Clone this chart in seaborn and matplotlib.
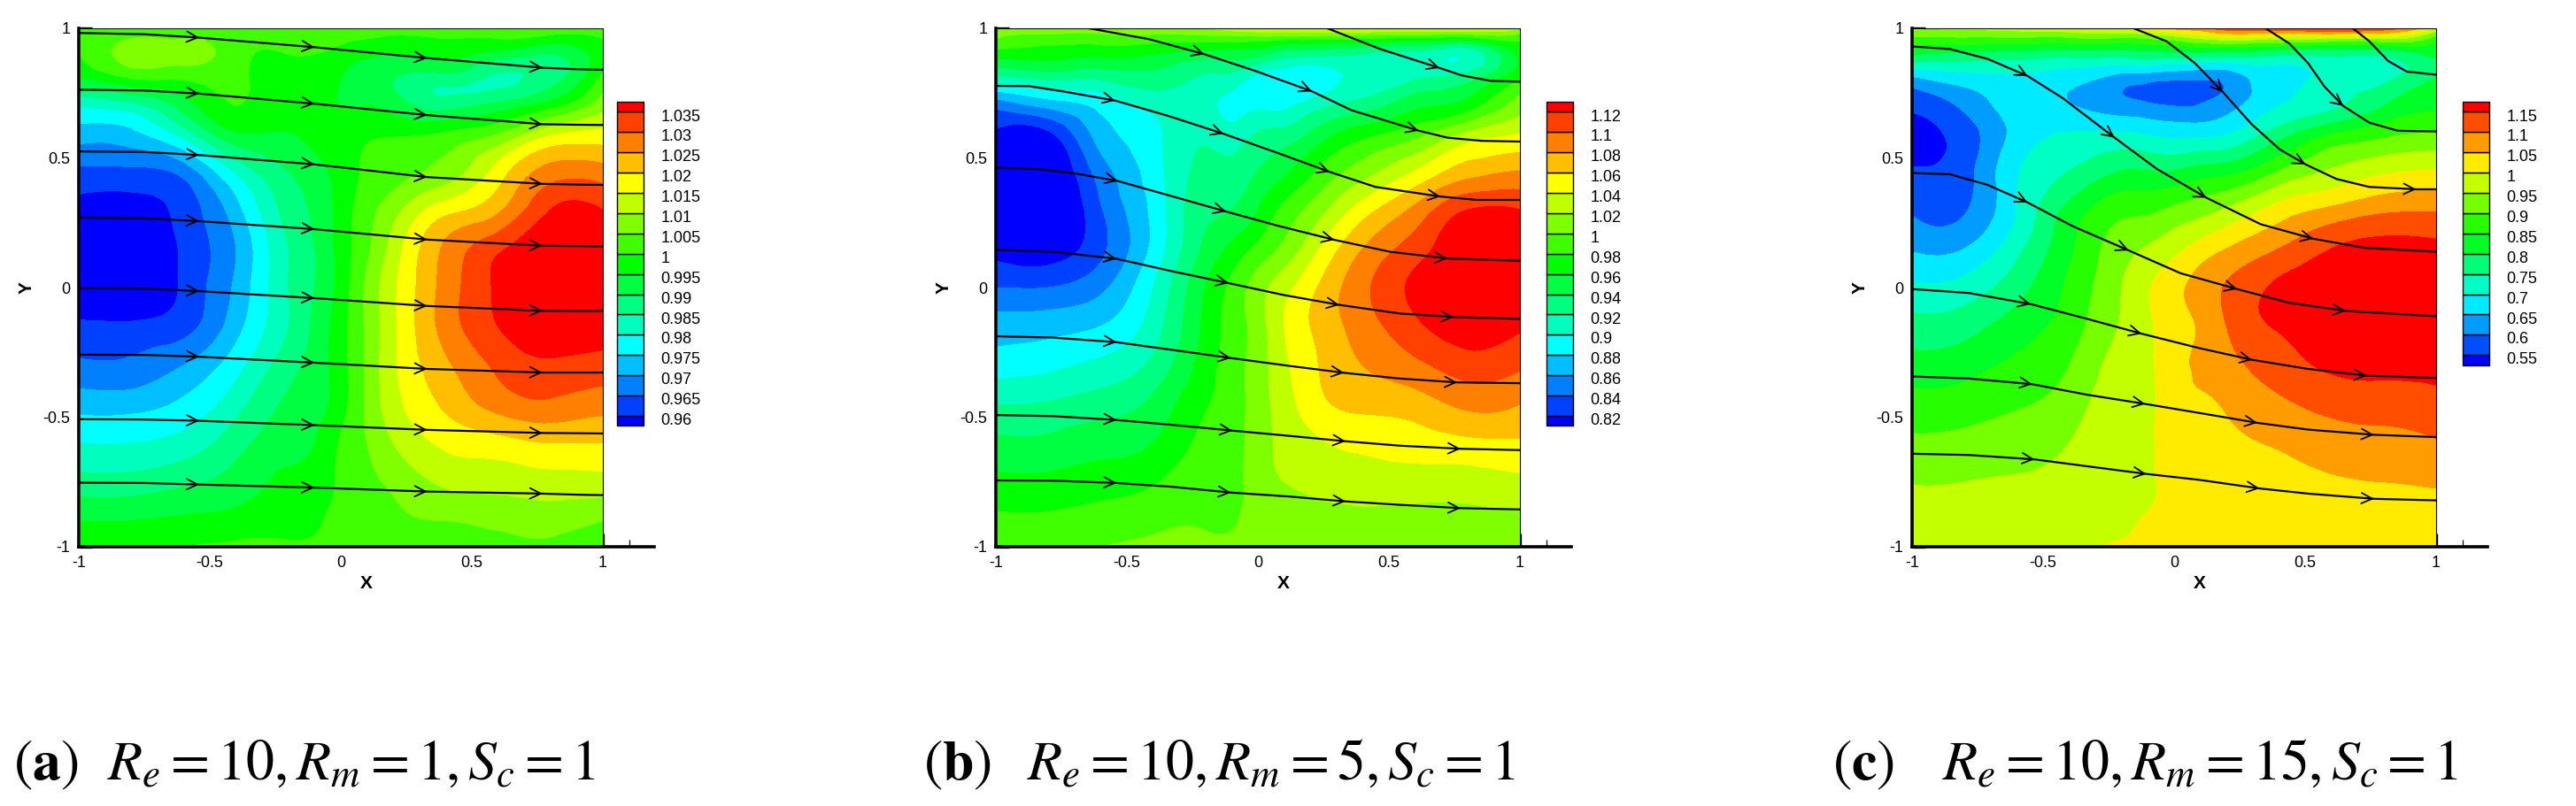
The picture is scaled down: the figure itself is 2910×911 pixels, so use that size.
import numpy as np
import pandas as pd
import matplotlib
matplotlib.use("Agg")
import matplotlib.pyplot as plt
import seaborn as sns
from matplotlib.colors import LinearSegmentedColormap
from matplotlib.patches import Rectangle
from matplotlib.ticker import MultipleLocator
from matplotlib.tri import Triangulation, UniformTriRefiner

# ---- sampling nodes of the fields ----
GRID_X = [-1, -.8, -.6, -.4, -.2, -.1, 0, .1, .2, .4, .6, .8, 1]
GRID_Y = [1, .96, .9, .8, .7, .6, .45, .3, .15, 0, -.15, -.3, -.45, -.6, -.75, -.9, -1]

# one row per GRID_X entry, one value per GRID_Y entry
FIELD_A = [
 [1.002,1.002,1.000,.994,.980,.973,.964,.958,.954,.955,.961,.966,.973,.980,.987,.995,1.000],
 [1.003,1.005,1.007,.999,.983,.974,.964,.957,.952,.953,.961,.966,.973,.980,.987,.995,.9995],
 [1.003,1.005,1.007,1.000,.992,.983,.967,.962,.961,.961,.963,.970,.976,.982,.989,.996,1.000],
 [1.002,1.002,1.002,1.001,1.000,.995,.981,.973,.970,.971,.973,.978,.983,.988,.992,.997,1.001],
 [1.002,1.002,1.000,.999,.998,.995,.990,.987,.985,.985,.985,.988,.991,.993,.996,.998,1.001],
 [1.002,1.002,1.000,.999,.998,.997,.993,.991,.990,.990,.991,.992,.993,.995,.997,.999,1.001],
 [1.002,1.001,.998,.995,.995,.998,.997,.997,.997,.997,.998,.998,.998,1.0005,1.001,1.002,1.002],
 [1.003,1.000,.996,.992,.995,.999,1.001,1.003,1.004,1.006,1.006,1.006,1.006,1.005,1.004,1.003,1.002],
 [1.003,.999,.995,.990,.993,.999,1.003,1.008,1.012,1.014,1.014,1.014,1.013,1.010,1.006,1.004,1.003],
 [1.003,1.000,.997,.987,.988,1.000,1.007,1.018,1.026,1.027,1.027,1.024,1.021,1.016,1.011,1.005,1.003],
 [1.003,1.000,.993,.984,.992,1.004,1.017,1.024,1.034,1.036,1.035,1.031,1.027,1.018,1.012,1.006,1.004],
 [1.003,.998,.990,.988,.998,1.013,1.027,1.035,1.039,1.040,1.039,1.034,1.029,1.020,1.013,1.007,1.004],
 [1.003,1.000,.998,1.002,1.008,1.016,1.027,1.035,1.040,1.041,1.038,1.033,1.027,1.020,1.013,1.005,1.000],
]
FIELD_B = [
 [1.010,1.000,.970,.910,.845,.818,.800,.790,.810,.840,.870,.890,.920,.945,.965,.985,1.000],
 [1.015,.990,.970,.920,.865,.818,.795,.785,.805,.840,.872,.895,.922,.945,.965,.985,1.000],
 [1.010,.990,.965,.920,.885,.870,.850,.838,.835,.855,.880,.905,.930,.952,.970,.990,1.000],
 [1.015,.990,.960,.930,.905,.895,.890,.885,.885,.900,.910,.925,.945,.960,.978,.995,1.004],
 [1.020,.990,.950,.915,.905,.915,.925,.935,.945,.960,.965,.970,.978,.985,.990,.998,1.003],
 [1.030,.990,.950,.910,.895,.907,.925,.940,.965,.985,.988,.990,.990,.992,.993,.998,1.005],
 [1.040,.990,.945,.890,.895,.920,.940,.960,.985,1.010,1.010,1.010,1.010,1.010,1.010,1.008,1.008],
 [1.045,.985,.930,.885,.895,.925,.955,.985,1.005,1.032,1.040,1.035,1.030,1.025,1.020,1.010,1.010],
 [1.045,.985,.925,.885,.910,.940,.975,1.005,1.030,1.054,1.060,1.055,1.050,1.035,1.025,1.012,1.010],
 [1.045,.980,.920,.905,.930,.970,1.010,1.050,1.080,1.095,1.090,1.080,1.065,1.045,1.030,1.015,1.012],
 [1.045,.975,.915,.920,.955,.990,1.040,1.085,1.110,1.125,1.115,1.095,1.070,1.050,1.030,1.015,1.012],
 [1.040,.970,.905,.935,.970,1.020,1.070,1.120,1.140,1.150,1.135,1.110,1.085,1.055,1.030,1.015,1.010],
 [1.020,.985,.965,.980,1.010,1.038,1.080,1.120,1.150,1.160,1.125,1.103,1.080,1.057,1.035,1.015,1.005],
]
FIELD_C = [
 [.960,.890,.810,.630,.560,.530,.555,.595,.645,.710,.770,.820,.870,.910,.948,.965,.975],
 [.960,.890,.790,.670,.610,.575,.580,.595,.650,.720,.780,.830,.875,.915,.950,.970,.980],
 [.970,.890,.780,.690,.675,.665,.695,.700,.735,.780,.825,.860,.895,.925,.955,.975,.990],
 [.985,.890,.770,.665,.655,.700,.750,.815,.840,.860,.875,.900,.925,.950,.970,.985,.995],
 [1.010,.890,.770,.620,.620,.700,.800,.885,.930,.950,.955,.970,.980,.985,.990,.995,1.003],
 [1.030,.900,.780,.610,.610,.690,.800,.890,.955,.995,.990,.990,.990,.990,.990,1.005,1.010],
 [1.060,.920,.780,.600,.600,.680,.800,.910,.985,1.035,1.035,1.035,1.030,1.030,1.025,1.020,1.020],
 [1.080,.950,.780,.600,.605,.680,.820,.930,1.020,1.070,1.055,1.055,1.045,1.035,1.030,1.020,1.020],
 [1.130,.970,.775,.610,.630,.690,.830,.955,1.050,1.105,1.100,1.080,1.055,1.040,1.030,1.020,1.020],
 [1.140,.960,.760,.680,.700,.770,.900,1.020,1.100,1.160,1.155,1.125,1.090,1.055,1.035,1.025,1.020],
 [1.170,.950,.760,.720,.740,.840,.955,1.060,1.150,1.190,1.190,1.160,1.115,1.075,1.045,1.030,1.025],
 [1.130,.950,.760,.740,.800,.880,.990,1.090,1.170,1.200,1.200,1.165,1.125,1.080,1.050,1.030,1.025],
 [.980,.870,.810,.805,.840,.900,1.003,1.095,1.165,1.210,1.200,1.165,1.135,1.095,1.055,1.030,1.020],
]

LABELS_A = ["0.96","0.965","0.97","0.975","0.98","0.985","0.99","0.995","1","1.005","1.01","1.015","1.02","1.025","1.03","1.035"]
LABELS_B = ["0.82","0.84","0.86","0.88","0.9","0.92","0.94","0.96","0.98","1","1.02","1.04","1.06","1.08","1.1","1.12"]
LABELS_C = ["0.55","0.6","0.65","0.7","0.75","0.8","0.85","0.9","0.95","1","1.05","1.1","1.15"]

# ---- streamlines: (x values, y values, indices of the arrow tips) ----
LINES_A = [
 ([-1,-.75,-.54,-.10,.33,.77,.9,1],[.982,.977,.964,.927,.885,.848,.842,.840],[2,3,4,5]),
 ([-1,-.75,-.54,-.10,.33,.77,.9,1],[.763,.760,.748,.709,.665,.630,.628,.627],[2,3,4,5]),
 ([-1,-.75,-.54,-.10,.33,.77,.9,1],[.525,.523,.511,.475,.426,.400,.397,.396],[2,3,4,5]),
 ([-1,-.75,-.54,-.10,.33,.77,.9,1],[.270,.267,.256,.225,.185,.161,.160,.159],[2,3,4,5]),
 ([-1,-.75,-.54,-.10,.33,.77,.9,1],[-.003,-.004,-.014,-.041,-.071,-.090,-.091,-.091],[2,3,4,5]),
 ([-1,-.75,-.54,-.10,.33,.77,.9,1],[-.259,-.260,-.267,-.290,-.314,-.328,-.328,-.328],[2,3,4,5]),
 ([-1,-.75,-.54,-.10,.33,.77,.9,1],[-.508,-.509,-.514,-.531,-.549,-.561,-.562,-.563],[2,3,4,5]),
 ([-1,-.75,-.54,-.10,.33,.77,.9,1],[-.753,-.754,-.760,-.772,-.787,-.795,-.799,-.801],[2,3,4,5]),
]
LINES_B = [
 ([-.645,-.415,-.204,-.011,.206,.357,.614,.724,.853,1],[1,.958,.900,.836,.757,.684,.605,.578,.566,.563],[2,4,6]),
 ([.265,.467,.693,.779,.890,1],[1,.920,.847,.818,.797,.794],[2]),
 ([-1,-.875,-.746,-.544,-.342,-.131,.081,.274,.449,.697,.835,1],[.778,.777,.757,.721,.662,.593,.517,.446,.388,.351,.338,.338],[3,5,7,9]),
 ([-1,-.838,-.691,-.535,-.324,-.121,.081,.292,.504,.724,1],[.462,.457,.439,.411,.351,.293,.237,.184,.138,.112,.103],[3,5,7,9]),
 ([-1,-.783,-.540,-.324,-.112,.099,.311,.540,.748,1],[.146,.138,.111,.062,.017,-.029,-.067,-.100,-.114,-.121],[2,4,6,8]),
 ([-1,-.783,-.539,-.324,-.103,.118,.329,.540,.761,1],[-.188,-.193,-.211,-.241,-.272,-.302,-.329,-.351,-.366,-.369],[2,4,6,8]),
 ([-1,-.783,-.539,-.324,-.097,.118,.335,.540,.774,1],[-.492,-.496,-.511,-.530,-.552,-.572,-.593,-.610,-.622,-.627],[2,4,6,8]),
 ([-1,-.783,-.539,-.324,-.103,.118,.335,.540,.774,1],[-.744,-.745,-.754,-.769,-.791,-.806,-.825,-.838,-.851,-.856],[2,4,6,8]),
]
LINES_C = [
 ([-.155,-.029,.079,.187,.295,.403,.502,.619,.745,.924,1],[1,.950,.866,.753,.631,.533,.475,.419,.388,.379,.379],[3,6,9]),
 ([.349,.439,.511,.574,.646,.745,.853,1],[1,.942,.866,.775,.700,.636,.605,.602],[4]),
 ([.682,.745,.817,.888,1],[1,.950,.874,.833,.821],[]),
 ([-1,-.856,-.712,-.559,-.424,-.227,-.065,.124,.331,.532,.727,1],[.930,.920,.882,.816,.730,.578,.457,.346,.244,.188,.153,.138],[3,5,7,9]),
 ([-1,-.856,-.712,-.559,-.388,-.173,.025,.241,.439,.655,1],[.442,.437,.396,.328,.237,.143,.055,-.006,-.059,-.090,-.111],[3,5,7,9]),
 ([-1,-.784,-.547,-.335,-.124,.097,.299,.511,.736,1],[-.006,-.021,-.064,-.120,-.178,-.234,-.279,-.314,-.340,-.349],[2,4,6,8]),
 ([-1,-.784,-.541,-.335,-.110,.097,.318,.511,.763,1],[-.343,-.351,-.373,-.413,-.449,-.484,-.522,-.548,-.568,-.577],[2,4,6,8]),
 ([-1,-.784,-.532,-.335,-.106,.097,.326,.511,.763,1],[-.641,-.646,-.663,-.689,-.719,-.742,-.775,-.795,-.815,-.821],[2,4,6,8]),
]

CAPTION_TAGS = [r"$(\mathbf{a})$", r"$(\mathbf{b})$", r"$(\mathbf{c})$"]
CAPTIONS = [r"$R_e=10,R_m=1,S_c=1$", r"$R_e=10,R_m=5,S_c=1$", r"$R_e=10,R_m=15,S_c=1$"]

# ---- layout, pixels of the 2910x911 canvas ----
W, H = 2910, 911
PANELS = [
 dict(left=89, right=681, bar=697, field=FIELD_A, labels=LABELS_A, lines=LINES_A, tagx=15, capx=121),
 dict(left=1125, right=1717, bar=1747, field=FIELD_B, labels=LABELS_B, lines=LINES_B, tagx=1043, capx=1160),
 dict(left=2160, right=2752, bar=2782, field=FIELD_C, labels=LABELS_C, lines=LINES_C, tagx=2070, capx=2194),
]
TOP, BOTTOM = 32, 618
XMAX = 1.196
BAR_W, BAR_TOP, BAND = 30, 115, 22.9

sns.set_theme(style="white")
plt.rcParams["font.family"] = ["Liberation Sans", "DejaVu Sans"]
plt.rcParams["mathtext.fontset"] = "stix"
ANCHORS = [(0, 0, 1)]
RAMP = ["#0000ff", "#00ffff", "#00ff00", "#ffff00", "#ff0000"]

fig = plt.figure(figsize=(W / 100, H / 100), dpi=100, facecolor="white")


def px_axes(x0, x1, y0, y1):
    return fig.add_axes([x0 / W, 1 - y1 / H, (x1 - x0) / W, (y1 - y0) / H])


for p, tag, cap in zip(PANELS, CAPTION_TAGS, CAPTIONS):
    span = p["right"] - p["left"]
    ax = px_axes(p["left"], p["left"] + span * (1 + XMAX) / 2, TOP, BOTTOM)
    ax.set_xlim(-1, XMAX)
    ax.set_ylim(-1, 1)

    levels = [float(s) for s in p["labels"]]
    nb = len(levels) + 1
    cmap = LinearSegmentedColormap.from_list("tp", RAMP, N=nb)
    colors = [cmap(i) for i in range(nb)]

    xx, yy = np.meshgrid(GRID_X, GRID_Y, indexing="ij")
    tri = Triangulation(xx.ravel(), yy.ravel())
    tri_f, z_f = UniformTriRefiner(tri).refine_field(np.array(p["field"], float).ravel(), subdiv=3)
    ax.tricontourf(tri_f, z_f, levels=[-10] + levels + [10], colors=colors, zorder=1, antialiased=False)

    ax.add_patch(Rectangle((-1, -1), 2, 2, fill=False, ec="black", lw=0.8, zorder=4, clip_on=False))

    for i, (lx, ly, tips) in enumerate(p["lines"]):
        df = pd.DataFrame({"x": lx, "y": ly})
        sns.lineplot(data=df, x="x", y="y", ax=ax, color="black", lw=1.6, sort=False,
                     estimator=None, legend=False, zorder=3)
        for k in tips:
            dx, dy = lx[k + 1] - lx[k - 1], ly[k + 1] - ly[k - 1]
            n = np.hypot(dx, dy)
            ax.annotate("", xy=(lx[k], ly[k]), xytext=(lx[k] - .02 * dx / n, ly[k] - .02 * dy / n),
                        arrowprops=dict(arrowstyle="->,head_length=0.55,head_width=0.27", color="black",
                                        lw=1.3, shrinkA=0, shrinkB=0, mutation_scale=16), zorder=5)

    for s in ("top", "right"):
        ax.spines[s].set_visible(False)
    for s in ("left", "bottom"):
        ax.spines[s].set_visible(True)
        ax.spines[s].set_linewidth(2.6)
        ax.spines[s].set_color("black")
        ax.spines[s].set_zorder(6)
    ax.set_xticks([-1, -.5, 0, .5, 1])
    ax.set_xticklabels(["-1", "-0.5", "0", "0.5", "1"])
    ax.set_yticks([-1, -.5, 0, .5, 1])
    ax.set_yticklabels(["-1", "-0.5", "0", "0.5", "1"])
    ax.xaxis.set_minor_locator(MultipleLocator(.1))
    ax.yaxis.set_minor_locator(MultipleLocator(.1))
    ax.tick_params(which="major", direction="in", length=11, width=2.4, color="black",
                   labelsize=13, labelcolor="black", left=True, bottom=True, pad=7, zorder=7)
    ax.tick_params(which="minor", direction="in", length=6, width=0.9, color="black", left=True, bottom=True)
    for t in ax.xaxis.get_major_ticks() + ax.yaxis.get_major_ticks():
        t.tick1line.set_zorder(7)
    ax.set_xlabel("X", fontsize=15, fontweight="bold", labelpad=4, color="black")
    ax.set_ylabel("Y", fontsize=15, fontweight="bold", labelpad=6, color="black")
    ax.patch.set_alpha(0)

    # legend bar
    bar_h = BAND * (nb - 1)
    cax = px_axes(p["bar"], p["bar"] + BAR_W, BAR_TOP, BAR_TOP + bar_h)
    cax.set_xlim(0, 1)
    cax.set_ylim(0, nb - 1)
    cax.axis("off")
    for i in range(nb):
        b = 0 if i == 0 else i - .5
        h = .5 if i in (0, nb - 1) else 1
        cax.bar(.5, h, width=1, bottom=b, color=colors[i], edgecolor="black", linewidth=1, clip_on=False)
    for i, s in enumerate(p["labels"]):
        cax.annotate(s, xy=(1, i + .5), xytext=(14, -4), textcoords="offset points", fontsize=13,
                     va="center", ha="left", color="black", annotation_clip=False)

    fig.text(p["tagx"] / W, 1 - 881 / H, tag, fontsize=46, color="black", va="baseline", ha="left")
    fig.text(p["capx"] / W, 1 - 881 / H, cap, fontsize=46, color="black", va="baseline", ha="left")

fig.savefig("out.png", dpi=100, facecolor="white")
